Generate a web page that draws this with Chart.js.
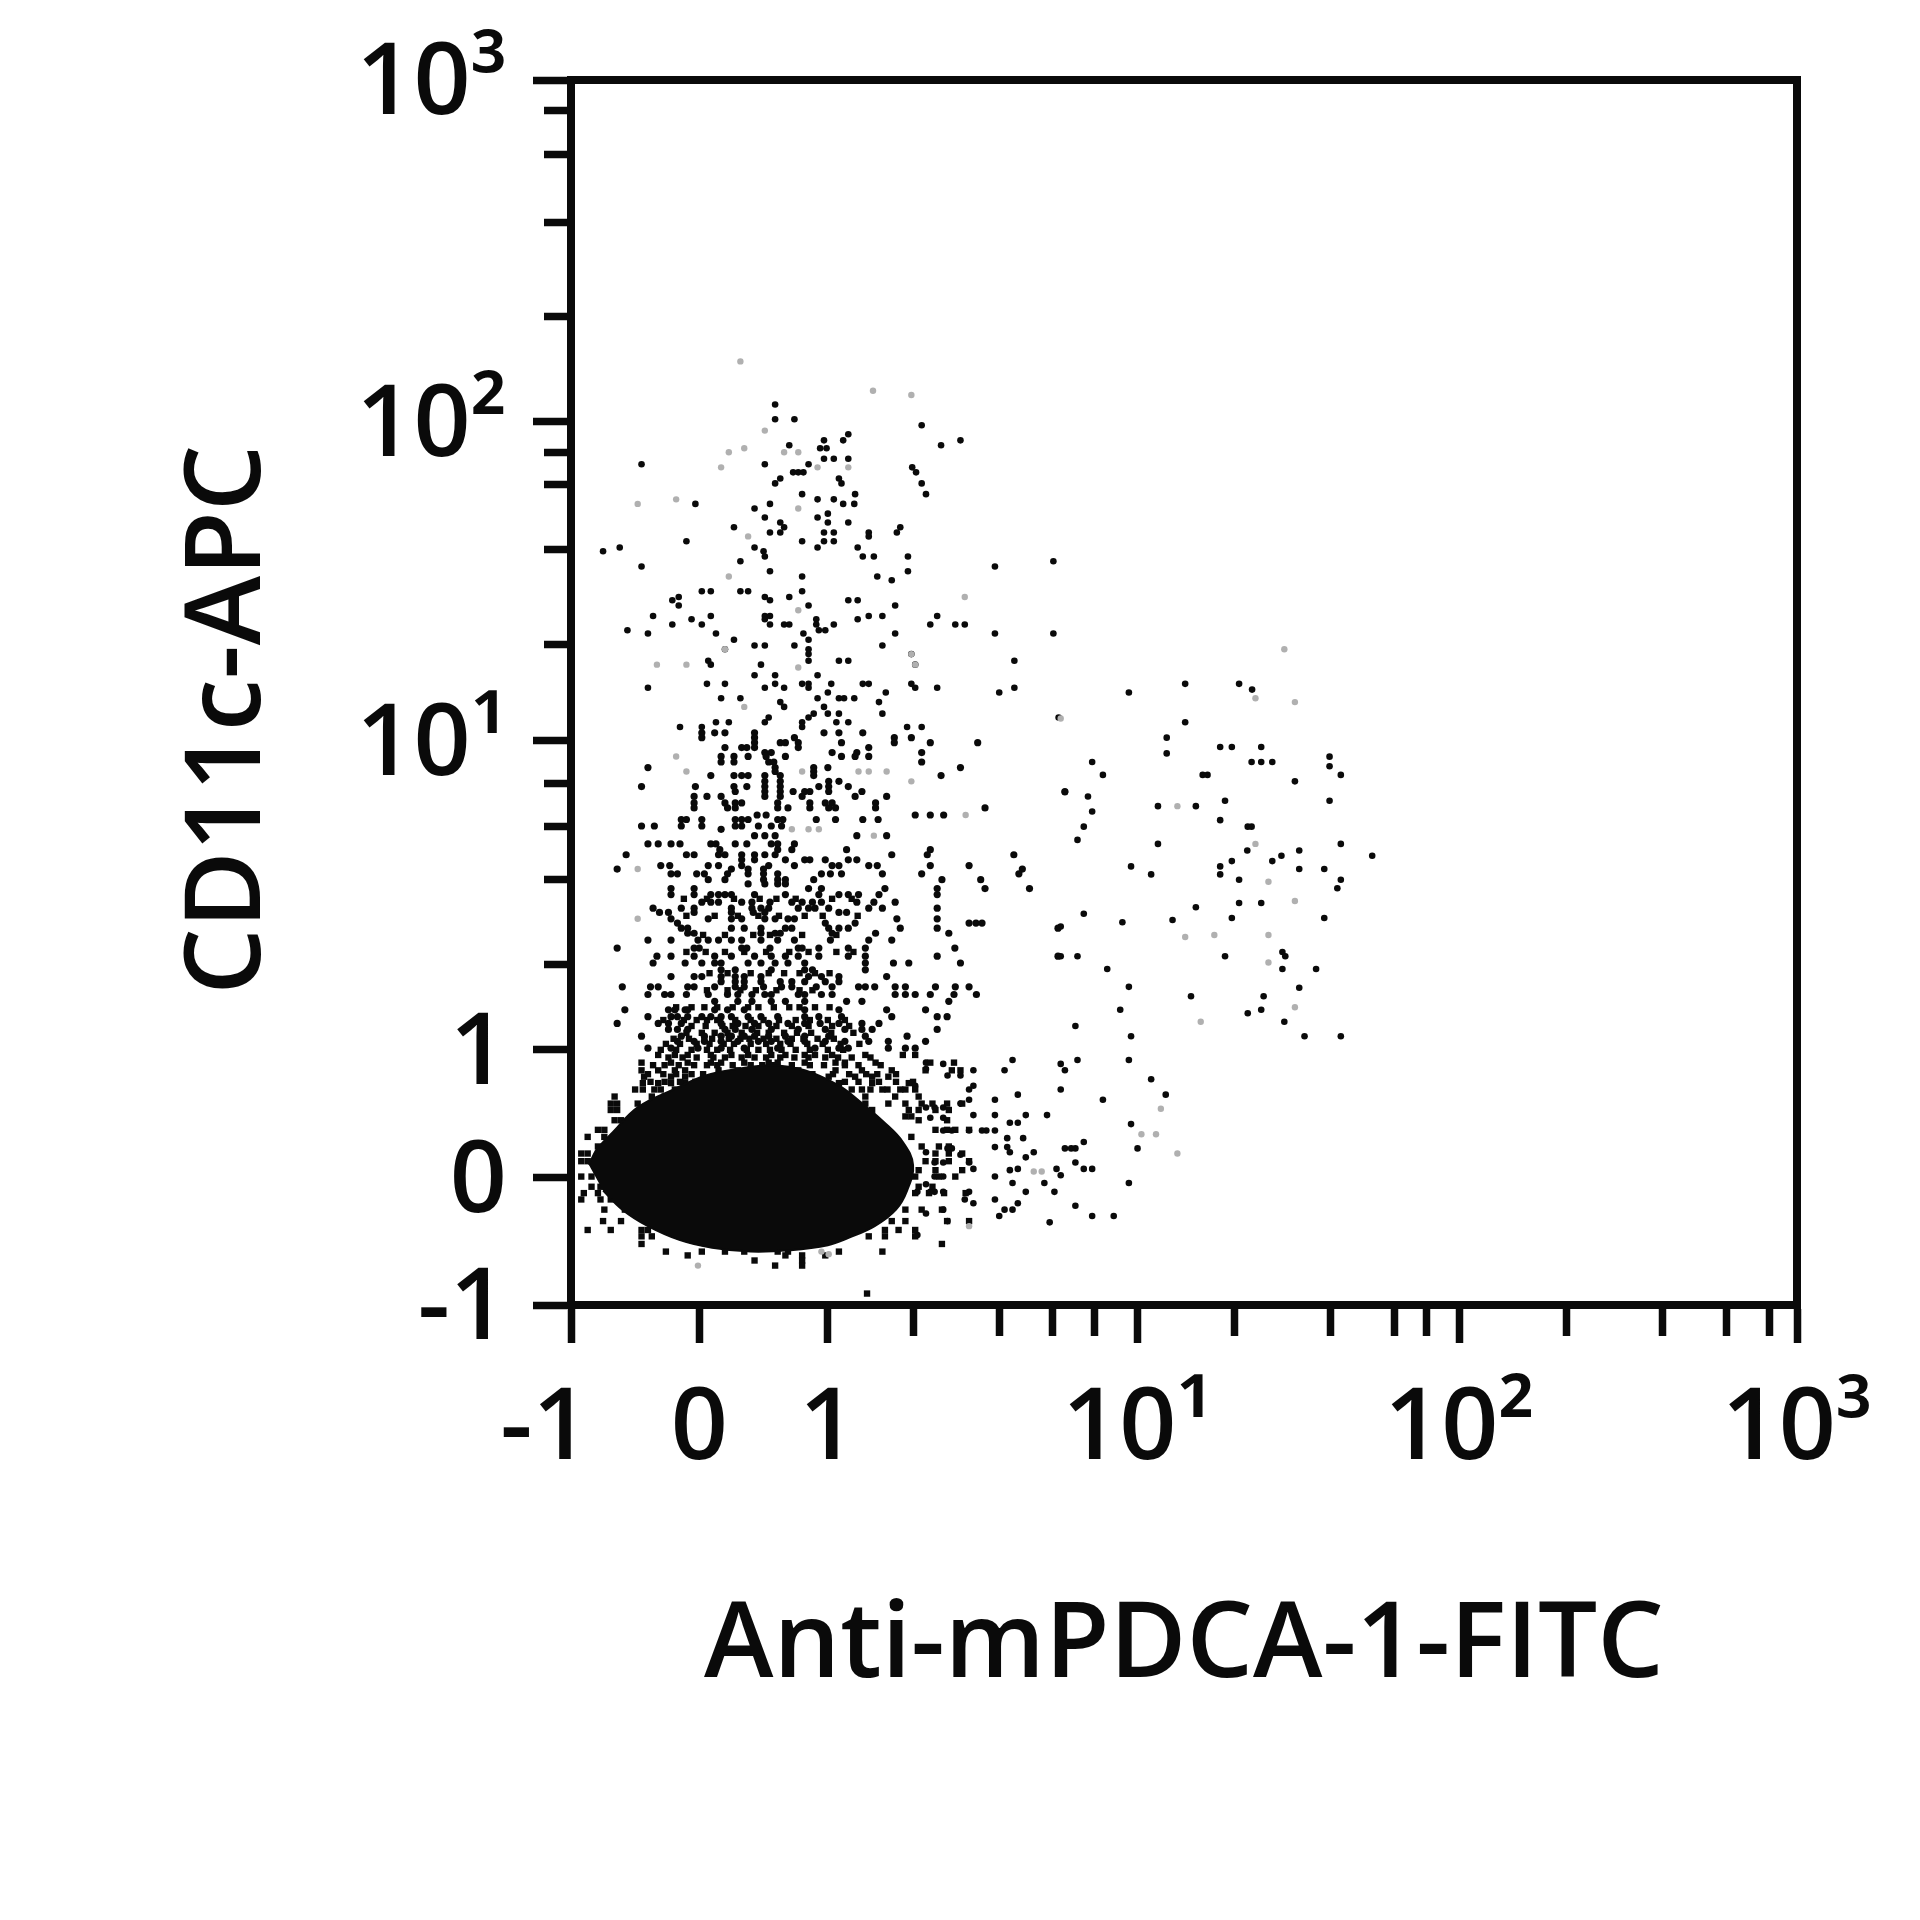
<!DOCTYPE html>
<html><head><meta charset="utf-8">
<style>html,body{margin:0;padding:0;background:#fff}canvas{display:block}</style>
<script src="https://cdn.jsdelivr.net/npm/chart.js@4/dist/chart.umd.js"></script>
</head><body><canvas id="c" width="1920" height="1920"></canvas>
<script>
// Axis text
const xTitle = 'Anti-mPDCA-1-FITC';
const yTitle = 'CD11c-APC\u00A0\u00A0';
const xMajor = [-1, 0, 1, 10, 100, 1000];
const yMajor = [-1, 0, 1, 10, 100, 1000];
const xLabels = ['-1\u00A0\u00A0', '0', '1', '10\u00B9', '10\u00B2', '10\u00B3'];
const yLabels = ['-1', '0', '1', '10\u00B9', '10\u00B2', '10\u00B3'];
const minorTicks = [2, 4, 6, 8, 20, 40, 60, 80, 200, 400, 600, 800];
// Biexponential axis calibration: [value, share of the axis]
const xCal = [[-1,0],[0,.1046],[1,.2095],[2,.2790],[4,.3493],[6,.3926],[8,.4268],[10,.4621],[20,.5414],[40,.6199],[60,.6716],[80,.6974],[100,.7247],[200,.8121],[400,.8905],[600,.9428],[800,.9779],[1000,1]];
const yCal = [[-1,0],[0,.1038],[1,.2083],[2,.2778],[4,.3472],[6,.3905],[8,.4257],[10,.4608],[20,.5392],[40,.6168],[60,.6699],[80,.6961],[100,.7214],[200,.8072],[400,.8840],[600,.9395],[800,.9747],[1000,1]];

// Outline of the saturated core of the negative population
const coreX = [-.86,-.8,-.67,-.48,-.2,.05,.29,.56,.82,1.13,1.37,1.65,1.88,2,1.93,1.8,1.55,1.25,1,.7,.4,.1,-.15,-.4,-.6,-.75];
const coreY = [.1,.22,.36,.55,.69,.8,.85,.88,.84,.72,.6,.44,.28,.1,-.1,-.25,-.38,-.47,-.53,-.57,-.58,-.55,-.49,-.38,-.25,-.1];

// Events, grouped by display row: one y level, then the x values on that row
const tailY = [116,102,97.4,91.6,87.7,84.5,82.6,80,76,72.5,70.6,67.5,63.7,60.6,57,55.4,54,52.6,51,49.8,48.3,46.8,45.2,44,42.5,40.6,39.6,38.5,37.5,36.4,35.4,34.3,33.5,31.2,30,29.3,28.2,26,25.3,24.2,23,22.3,21,19.9,19.5,19,18.3,17.9,17.6,16.8,15.9,15.5,15,14.4,14,13.5,12.8,12.4,11.9,11.4];
const tailX = [[.59],[.59,.74],[2.2],[1.24],[.97,1.18,3.1],[.7,2.65],[.94,.99],[],[.97,1.07,1.24],[-.45,.51,.85],[1.99],[.73,.77,.81,2.07],[.63,1.13],[2.2,.59,1.16],[.8,1.32,2.3],[.92,1.07],[-.03,.55,1.18,1.31],[.43],[1],[.51,.92],[.63,1,1.24],[.27,.66,1.85],[.55,.63,.97,1.07,1.48,1.81],[1.48],[-.1,.8,.97,1.07],[-.62,.43,.92,1.35],[-.75,.5],[.51,1.41,1.54,1.94],[.32,6.05],[-.45,3.9],[.55,1.94],[.8,1.58],[1.75],[.02,.09,.32,.38,.8],[-.16,.51,.7],[-.21,.55,1.24,1.35],[-.16,.85,1.79],[-.36,.09,.51,.55,1.48,1.64,2.56],[-.06,.51,1.35,.91],[-.21,.02,.55,.66,.7,.91,1.07,2.4,2.98,3.2],[-.56,.98,.93],[-.4,.13,.81,1.79,3.9,6.05],[.27,.85],[.43,.51,.74,1.64],[.2,.85],[.85,1.98],[.07,.85,1.13,1.24,4.57],[.09,.48,2.05],[],[.43,.59,.92],[.06,.2,.59,.8,.85,1.04,1.41,1.48,1.98],[-.4,.51,.66,.85,2.05,2.56,4.57],[1,1.68,4],[.17,.32,.92,1.13,1.19,1.31],[.63,1.6],[.66,.97],[1,1.13,.89,1.64],[.54,.85,6.3],[.13,.23,.51,.8,1.1,1.24],[-.15,.02,.8,1.93,2.2]];

const midY = [10.8,10.3,9.9,9.67,9.44,9.26,9,8.74,8.56,8.37,8.1,7.86,7.63,7.4,7.1,6.87,6.54,6.33,6.03,5.9,5.66,5.35,5.13,4.94,4.75,4.53,4.4,4.22,4,3.9,3.79,3.65,3.47,3.33,3.23,3.08,2.98,2.86,2.74,2.58,2.39,2.2,2.04,1.94,1.86,1.8,1.74,1.65,1.57,1.47,1.39,1.31,1.24,1.16,1.1,1.02];
const midX = [
[.02,.12,.2,.43,.97,1.13,1.41],
[.02,.43,.74,1.78,1.98],
[.43,.63,.67,.77,1.16,1.78,2.4,3.5],
[.2,.33,.37,.43,.77,1.48],
[.51,.56,1.05,1.34,2.2],
[.17,.27,.38,.52,.67,1.16,1.32,1.48],
[.17,.27,.54,.58,2.2],
[-.4,.59,.89,1,3.1],
[.59,.89],
[.09,.27,.33,.38,.51,.63,.89,2.65],
[.51,.63,1.01,1.13],
[-.45,-.03,.27,.37,.51,.63,.93,1.01,1.24],
[.28,.51,.63,.73,.82,.86,1.01,1.4,6.6],
[-.04,.06,.17,.51,.63,.8,1.32,1.69],
[-.04,.2,.28,.33,.61,.86,.98,1.05,1.56],
[-.04,.22,.28,.61,.69,.86,1.01,1.09,1.56,3.67],
[.45,.52,2.05,2.4,2.71],
[-.14,-.1,.02,.28,.33,.38,.61,.65,.91,1.09,1.41,1.59],
[-.45,-.35,-.14,.02,.28,.33,.46,.56,.64],
[.17],
[.43,.51,.59,1.34,1.69],
[-.4,-.32,-.22,-.15,.09,.13,.28,.37,.56,.61,.74],
[.16,.61,.72,1.22,2.4],
[-.57,-.1,-.04,.15,.2,.33,.43,.51,.59,1.75,2.33,4.55],
[.33,.43,.67,.82,.86,.98,1.24,1.34],
[-.3,-.23,.07,.15,.33,.54,.74,1.05,1.13,1.48,1.58,2.4,3.3],
[-.64,.25,.38,.5,4.87],
[-.22,-.17,-.02,.04,.22,.38,.5,.61,.95,1.03,1.16,1.64,2.2,4.74],
[.07,.2,.5,.61,.67,.89,2.67,3.57],
[.38,.51,.61,.67],
[.85,.95,2.56,3.67,5.14,1.67,-.22,-.04],
[-.22,-.04,.09,.15,.2,.25,.43,.67,.93,1.13,1.24,1.36,1.6,2.56],
[.02,.09,.15,.33,.41,.55,.72,.8,.88,.95,1.34,1.54,1.79],
[-.36,-.14,-.04,.25,.41,.48,.54,.77,.85,.9,1.01,1.48,1.64,2.56],
[-.31,-.24,-.04,.25,.42,.51,1.13,1.22],
[-.22,.07,.25,.33,.51,.59,.69,.74,2.56,1.81],
[3.3,3.46,3.6,.98,1.32,-.17],
[-.14,-.09,.25,.35,.48,.67,.72,1.01,1.13,1.24,1.85,2.56,6.27],
[-.09,-.04,.48,.59,.63,1.05,1.56,2.83],
[-.4,-.22,-.01,.07,.15,.25,.33,.48,.61,.74,1.03,1.48,1.75],
[-.64,-.04,0,.33,.37,.55,.77,.8,.93,1.24,1.44,2.97],
[-.33,-.22,-.04,.12,.25,.43,.56,.67,.77,.93,1.24,1.44,2.56,6.27],
[-.36,-.11,.02,.12,.17,.38,.48,.59,.69,.82,1.44,1.77,1.95,3.1],
[.17,.28,.56,.82,.88,1.44],
[-.22,-.04,.02,.17,.28,.35,.48,.85,.95,1.13,1.69],
[.17,.28,.35,.48,.63,.72,.82,.98,1.13],
[-.6,-.38,-.32,-.09,-.04,.12,.28,.35,.5,.64,.72,.91,1.05,1.36,1.44,1.55,1.79,1.91,2.52,2.98,3.3],
[-.4,-.27,-.22,-.1,.07,.22,.3,.41,.51,.56,.77,.82,.95,1.05,1.79,1.91,2.05,2.4,2.95,3.47],
[.12,.3,.41,.56,.67,.82,1.22,1.4,2.83],
[-.58,-.24,-.19,-.11,-.09,.12,.22,.35,.82,1.13,1.69,2.29],
[-.4,-.22,-.17,-.09,.02,.09,.17,.25,.38,.48,.61,.82,.93,1.16,1.75,2.56,2.79],
[-.64,-.32,-.24,-.14,.17,.3,.43,.54,.69,.82,.94,1.13,1.4,1.6],
[-.24,-.17,-.09,.2,.28,.41,.56,.77,.98,1.2,1.4,1.52,2.56],
[-.45,-.14,.04,.17,.25,.35,.43,.54,.67,.82,1.01,1.44,1.93],
[-.17,-.04,.04,.17,.3,.46,.56,.69,.82,.98,1.2,1.48,1.71,2.29],
[-.4,-.22,-.01,.17,.35,.61,.9,1.13,1.24,1.71,1.91,2.05]];

const denseY = [3.55,3.15,2.7,2.3,1.9,1.7,1.5,1.35,1.28,1.2,1.13,1.07,1,.94,.88,.81,.75,.69];
const denseX = [
[-.12,.06,.27,.47,.6,.75,1.05,1.28],
[-.1,.12,.3,.46,.62,.82,.96,1.35],
[.03,.2,.42,.55,.8,1.1],
[-.1,.05,.2,.35,.52,.7,.85,1.1,1.3],
[.08,.22,.4,.54,.66,.78,.9,1.02],
[.06,.22,.32,.44,.6,.78,.88],
[-.18,-.06,.04,.14,.26,.38,.46,.58,.7,.78,.9,1.02],
[-.28,-.12,-.02,.06,.14,.28,.4,.5,.62,.75,.86,1,1.2],
[-.06,.05,.18,.26,.36,.46,.6,.72,.85,1.05,1.25],
[-.1,.02,.12,.22,.33,.45,.54,.66,.76,.87,1.04,1.3],
[-.2,-.08,.04,.1,.23,.32,.39,.5,.6,.72,.81,.92,1.07],
[-.26,-.15,-.02,.08,.19,.27,.4,.52,.63,.71,.84,.96,1.15,1.37],
[-.3,-.18,-.06,.06,.14,.24,.37,.46,.55,.64,.75,.86,1,1.18],
[-.24,-.13,-.02,.11,.2,.33,.43,.52,.63,.74,.85,.98,1.12,1.28,1.5],
[-.36,-.27,-.16,-.04,.06,.14,.26,.4,.49,.58,.72,.86,.97,1.2,1.36,1.62],
[-.4,-.28,-.18,-.06,.03,.2,.42,.68,.88,1.06,1.25,1.45,1.58,1.8],
[-.38,-.27,-.15,-.03,.07,.88,1.2,1.36,1.6,1.8,2],
[-.44,-.3,-.14,1.28,1.5,1.7,1.85,2.05]];

const fringeY = [.96,.9,.84,.79,.74,.69,.635,.58,.53,.48,.45,.375,.32,.245,.19,.13,.06,.01,-.07,-.12,-.17,-.25,-.34,-.41,-.46,-.52,-.58,-.61,-.65,-.69,-.91];
const fringeX = [
[-.32,-.19,-.09,.09,.25,.38,.56,.67,.82,.9,1.05,1.44,1.88,2.05],
[-.45,-.22,-.09,.09,.17,.35,.54,.61,.82,1.09,1.2,1.56,2.4,2.95],
[-.45,-.32,-.19,-.11,.15,.3,.54,.77,1.09,1.4,1.75,2.29,2.9,3.1],
[-.43,-.22,-.11,.12,.46,.56,.82,1.01,1.32,1.52,1.71],
[-.44,-.32,-.22,-.11,.12,.35,.46,.72,.95,1.13,1.52,1.95],
[-.5,-.35,-.19,-.11,.09,.3,.46,.72,.8,1.13,1.4,1.64,1.91],
[-.66,-.37,-.27,-.14,-.01,.09,1.2,1.44,1.79,2.13],
[-.69,-.64,-.48,-.35,1.44,1.71,1.91,2.2,2.45,2.79,3.14],
[-.69,-.64,-.37,1.52,1.95,2.13,2.52,2.83],
[1.91,1.98],
[-.66,-.61,2.13,2.79],
[-.79,-.74,2.52,2.79,2.98,3.3],
[-.87,-.74,1.98],
[-.79,2.2,2.6,2.83],
[-.92,-.87,-.79,2.52,2.83,3.14],
[-.92,-.87,-.82,2.29,2.52,2.83,3.3],
[2.13,2.52,3.14],
[-.92,-.84,2.05,2.6,2.98],
[-.84,-.77,2.13,2.45],
[-.9,-.79,2.05,2.37,2.72,3.22],
[-.92,-.77,-.69],
[-.74,-.58,1.91,2.2,2.67],
[-.75,-.61,1.75,1.91,2.79,3.3],
[-.87,-.69,-.45,-.4,1.67,1.83,2.05],
[-.45,-.37,1.48,1.67,2.05],
[-.45,2.67],
[-.26,.02,.2,.35,.61,.69,1.13,1.64],
[-.09,.67,.98,.8],
[.43,.8],
[.59,.8],
[1.46]];

const sideX = [7.9,8.4,6.6,7.7,7.9,7.5,7.2,9.7,11.4,7.5,6.4,9.3,6.4,7.2,8.6,9.6,9.2,7.1,9.7,7.2,9.6,6.4,6.6,11.4,6.4,12.9,8.4,9.7,10,7.1,7.5,7.9,6.2,6.4,9.6,7.1,7.9,8.9,5.9,6.6,6.9,7.1,7.5,5.8,5,4.7,4.5,4.2,3.4,2.7,3.1,3.4,3.3,3.9,3.3,3.1,3.4,3.9,4.4,4.7,3.9,3.7,3.3,3.6,2.9,2.7,4.9,4.3,3.9,4.3,4.4,5.3,5,3.1,3.3,3.4,3.9,4.4,4.7,4.5,5.7,6.1,5,3.3,3.9,3.2,3.4,4.7,4.2,4.5,4,2.8,2.3,2.7,2.1,2.5,2.7,2.4,2.1,2.5,2.7,2.3,2.3,2.8,2.9,2.5,2.7,2.3,2.5,2.7,2.7,2.4,2.3,2.3,2.8,2.05,14.9,20.9,23.6,14.9,9.6,13,13,18.5,19.7,25.5,23.5,25.5,27.8,39.7,39.7,43.1,17.2,16.7,32.5,39.7,19,12.1,16,18.5,23.5,22.7,12.1,22.6,33.4,43.1,53,29.7,27.8,19.7,18.5,18.5,33.4,38.6,20.9,43.1,42,20.9,25.5,16,13.6,19.7,38.6,19,29.9,30.5,29.9,36.9,33.4,15.5,26,22.7,25.5,30.3,34.5,43.1];
const sideY = [9,8.4,7.6,7.4,6.7,6,5.5,4.5,4.2,3.2,2.9,3,2.2,2.2,1.95,1.74,1.47,1.28,1.16,.92,.92,.89,.84,.77,.69,.65,.61,.42,.23,.12,.07,.07,.07,.02,-.04,-.22,-.3,-.3,-.35,.23,.23,.23,.28,.49,.49,.65,.92,.84,.84,.89,.8,.72,.69,.61,.61,.58,.49,.49,.43,.43,.37,.37,.37,.37,.37,.37,.31,.31,.24,.24,.2,.2,.16,.18,.12,.07,.01,.06,.07,-.04,-.04,-.11,-.11,-.11,-.17,-.17,-.2,-.2,-.25,-.25,-.3,-.34,-.28,-.25,-.45,-.11,-.11,-.11,-.11,.01,.01,-.05,.2,.23,.23,.12,.12,.55,.55,.55,.47,.47,.9,.85,.8,.72,15.9,15.9,15.3,11.9,15,10.3,9.4,9.7,9.7,9.7,9,9,9,9.25,8.8,8.4,8.4,8.4,8.1,7.2,7.2,6.95,6.95,6.3,6,6,5.35,5.1,5.1,5.35,4.9,4.9,4.7,4.7,4.5,4.2,4.4,4.4,4,4,3.8,3.45,3.45,3.35,3.05,3.1,3.1,2.2,2.3,2.2,1.95,1.95,1.73,1.63,1.63,1.43,1.47,1.33,1.16,1.16];

const faintX = [.32,1.53,1.98,.51,.23,.66,.77,.35,.17,.92,1.24,-.48,-.18,.77,.38,.23,3.2,.77,1.98,-.33,-.1,2.05,.2,.77,.35,-.18,-.1,.8,1.36,1.48,1.69,1.98,.72,.85,.93,1.54,3.22,-.48,-.48,6.4,14.1,24.3,32.5,30.3,24.3,27,32.5,14.9,17.9,27,27,16.5,32.5,10.4,11.9,14.1,12.4,5.3,5.6,3.3,-.01,.95,1.01];
const faintY = [157,129,125,94,80,80,80,82.6,70.6,70.6,70.6,54,55.4,52.6,44,34.3,30,27.2,19,17.9,17.9,17.9,19.5,17.6,13.5,9.26,8.56,8.56,8.56,8.56,8.56,8.1,5.9,5.9,5.9,5.66,6.54,4.4,3.08,12.3,6.95,14.4,14,19.5,5.35,3.95,3.5,2.65,2.7,2.7,2.05,1.33,1.5,.34,.34,.19,.54,.05,.05,-.38,-.69,-.58,-.6];

function pairs(xs, ys) { return xs.map((x, i) => ({x, y: ys[i]})); }
function rows(ys, xLists) { return ys.flatMap((y, i) => xLists[i].map(x => ({x, y}))); }

class BiexScale extends Chart.LinearScale {
  static id = 'biex';
  static defaults = Chart.LinearScale.defaults;
  share(v) {
    const cal = this.options.calibration;
    if (v <= cal[0][0]) return cal[0][1];
    for (let i = 1; i < cal.length; i++) {
      if (v <= cal[i][0]) {
        const a = cal[i - 1], b = cal[i];
        return a[1] + (v - a[0]) / (b[0] - a[0]) * (b[1] - a[1]);
      }
    }
    return 1;
  }
  getPixelForValue(v) { return this.getPixelForDecimal(this.share(v)); }
}
Chart.register(BiexScale);

const INK = '#0a0a0a';
const TICK_FONT = {family: '"Open Sans"', weight: '600', size: 100, lineHeight: 1};
const TITLE_FONT = {family: '"Open Sans"', weight: '600', size: 105, lineHeight: 1};

const frame = {
  id: 'frame',
  afterDatasetsDraw(chart) {
    const {ctx, chartArea: a} = chart;
    ctx.save();
    ctx.strokeStyle = INK; ctx.lineWidth = 8;
    ctx.strokeRect(a.left, a.top, a.right - a.left, a.bottom - a.top);
    ctx.restore();
  }
};

function axis(cal, major, labels, title, side) {
  const left = side === 'left';
  return {
    type: 'biex', calibration: cal, min: -1, max: 1000, position: side,
    afterBuildTicks(s) { s.ticks = major.concat(minorTicks).sort((a, b) => a - b).map(value => ({value})); },
    afterFit(s) { if (left) s.width = 393; else s.height = 395; },
    border: {display: true, color: INK, width: 8},
    grid: {
      drawOnChartArea: false, drawTicks: true, tickLength: 38, tickWidth: 7.5, tickColor: INK,
      tickBorderDash: c => major.includes(c.tick.value) ? [] : (left ? [0, 11, 30, 10] : [27, 60])
    },
    ticks: {
      autoSkip: false, maxRotation: 0, minRotation: 0, color: INK, font: TICK_FONT,
      padding: left ? 26 : 38, labelOffset: left ? 6 : 0,
      callback: v => { const i = major.indexOf(v); return i < 0 ? '' : labels[i]; }
    },
    title: {display: true, text: title, color: INK, font: TITLE_FONT, padding: 0}
  };
}

const dots = (label, data, color, radius) => ({label, data, backgroundColor: color, pointRadius: radius, borderWidth: 0});
const blocks = (label, data) => ({label, data, backgroundColor: INK, pointStyle: 'rect', pointRadius: 4.5, borderWidth: 0});

new Chart(document.getElementById('c'), {
  type: 'scatter',
  data: {datasets: [
    {label: 'Core', data: pairs(coreX, coreY), showLine: true, fill: 'shape', backgroundColor: INK, borderColor: INK, borderWidth: 2, pointRadius: 0, tension: .4},
    dots('Faint', pairs(faintX, faintY), '#b0b0b0', 3.2),
    dots('Tail', rows(tailY, tailX), INK, 3.3),
    dots('Mid', rows(midY, midX), INK, 3.6),
    blocks('Dense', rows(denseY, denseX)),
    blocks('Fringe', rows(fringeY, fringeX)),
    dots('Side', pairs(sideX, sideY), INK, 3.3)
  ]},
  options: {
    responsive: false, animation: false,
    layout: {padding: {left: 178, right: 123, top: 80, bottom: 220}},
    plugins: {legend: {display: false}, tooltip: {enabled: false}},
    scales: {
      x: axis(xCal, xMajor, xLabels, xTitle, 'bottom'),
      y: axis(yCal, yMajor, yLabels, yTitle, 'left')
    }
  },
  plugins: [frame]
});
</script></body></html>
